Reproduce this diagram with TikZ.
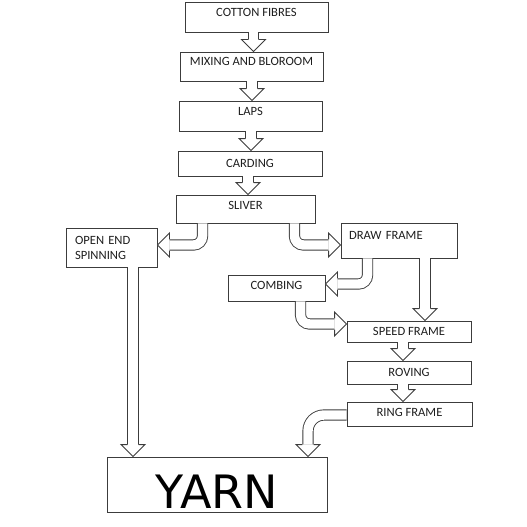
\documentclass[tikz,border=0pt]{standalone}
\usepackage{fontspec}
\setmainfont{Carlito}
\newfontfamily\yarnfont{DejaVu Sans}
\usepackage{tikz}
\usetikzlibrary{calc}
\definecolor{ink}{HTML}{1E1E1E}
\definecolor{edge}{HTML}{3C3C3C}
\tikzset{
  box/.style={draw=edge, line width=0.9pt, text=ink, font=\fontsize{12.6}{15}\selectfont, inner xsep=2pt},
  txt/.style 2 args={inner ysep=0pt, text height=#1, text depth=#2},
  shaft/.style={draw=edge, double=white, double distance=9.4pt, line width=0.9pt, rounded corners=9pt, line cap=butt},
  head/.pic={
    \fill[white] (-12,-12) -- (0,0) -- (-12,12) -- cycle;
    \draw[edge, line width=0.9pt, line join=miter] (-12,-5.6) -- (-12,-12) -- (0,0) -- (-12,12) -- (-12,5.6);
  },
}

\begin{document}
\begin{tikzpicture}[x=1pt,y=-1pt]
  \useasboundingbox (0,0) rectangle (527,527);
  % boxes
  \node[box, txt={15pt}{15pt}, minimum width=143pt] (cotton) at (256.5,17) {COTTON FIBRES};
  \node[box, txt={14pt}{15pt}, minimum width=143pt] (mixing) at (251.5,66.5) {MIXING AND BLOROOM};
  \node[box, txt={14.6pt}{15.4pt}, minimum width=143pt] (laps) at (250.5,116) {LAPS};
  \node[box, minimum width=144pt, minimum height=25pt] (carding) at (250,163.5) {CARDING};
  \node[box, txt={14pt}{14pt}, minimum width=139pt] (sliver) at (245.5,209) {SLIVER};
  \node[box, text width=73pt, inner xsep=9pt, align=left, minimum height=39pt] (openend) at (111.5,247.5) {OPEN END\\SPINNING};
  \node[box, text width=100pt, inner xsep=8pt, align=left, txt={16pt}{19pt}] (drawf) at (399,240.5) {DRAW FRAME};
  \node[box, txt={14pt}{12pt}, minimum width=97pt] (combing) at (276.5,288) {COMBING};
  \node[box, minimum width=124pt, minimum height=21pt] (speed) at (409,331.5) {SPEED FRAME};
  \node[box, minimum width=124pt, minimum height=23pt] (roving) at (409,372.5) {ROVING};
  \node[box, txt={14pt}{10pt}, minimum width=125pt] (ring) at (409.5,414) {RING FRAME};
  \node[box, txt={51pt}{4pt}, minimum width=220pt, text=black, font=\yarnfont\fontsize{46}{50}\selectfont] (yarn) at (217,484.5) {YARN};
  % straight arrows
  \foreach \a/\b/\dx in {cotton/mixing/-3, mixing/laps/0.5, laps/carding/0.5, carding/sliver/-2,
                         speed/roving/-6, roving/ring/-6, drawf/speed/26, openend/yarn/21.5} {
    \coordinate (s) at ($(\a.south)+(\dx,0)$);
    \draw[shaft] (s) -- ($(s |- \b.north)+(0,-12)$);
    \pic[rotate=-90] at (s |- \b.north) {head};
  }
  % bent arrows
  \coordinate (t1) at ($(openend.east)+(0,-2.5)$);
  \draw[shaft] ($(sliver.south west)+(27,0)$) |- ($(t1)+(12,0)$);
  \pic[rotate=180] at (t1) {head};
  \coordinate (t2) at ($(drawf.west)+(0,4.5)$);
  \draw[shaft] ($(sliver.south east)+(-21,0)$) |- ($(t2)+(-12,0)$);
  \pic at (t2) {head};
  \coordinate (t3) at ($(combing.east)+(0,-4)$);
  \draw[shaft] ($(drawf.south west)+(27,0)$) |- ($(t3)+(12,0)$);
  \pic[rotate=180] at (t3) {head};
  \coordinate (t4) at ($(speed.west)+(0,-7.5)$);
  \draw[shaft] ($(combing.south west)+(73,0)$) |- ($(t4)+(-12,0)$);
  \pic at (t4) {head};
  \coordinate (t5) at ($(yarn.north)+(91,0)$);
  \draw[shaft, rounded corners=16pt] ($(ring.west)+(0,1)$) -| ($(t5)+(0,-12)$);
  \pic[rotate=-90] at (t5) {head};
\end{tikzpicture}
\end{document}
